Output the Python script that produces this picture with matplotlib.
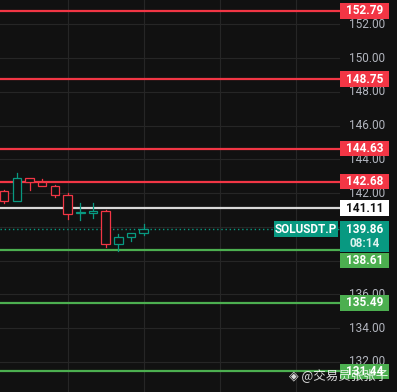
import matplotlib.pyplot as plt
from matplotlib.patches import Rectangle

# candles (oldest -> newest)
opens = [142.12, 141.51, 142.88, 142.66, 142.41, 141.88, 140.84, 140.82, 140.95, 138.98, 139.39, 139.62]
highs = [142.19, 143.19, 142.88, 142.82, 142.48, 142.00, 141.42, 141.42, 141.02, 139.60, 139.64, 140.17]
lows = [141.39, 141.51, 142.21, 142.41, 141.74, 140.45, 140.39, 140.50, 138.80, 138.59, 139.15, 139.50]
closes = [141.51, 142.88, 142.65, 142.41, 141.88, 140.76, 140.86, 140.96, 138.98, 139.41, 139.64, 139.90]

# horizontal levels
red_levels = [152.79, 148.75, 144.63, 142.68]
white_level = 141.11
green_levels = [138.61, 135.49, 131.44]
last_price = 139.86
countdown = "08:14"
symbol = "SOLUSDT.P"
price_ticks = [152, 150, 148, 146, 144, 142, 140, 138, 136, 134, 132]
hidden_ticks = [140, 138]   # covered by the price boxes on the scale
time_grid = [5, 11, 17, 23]
watermark = "◈ @交易员张张子"

BG = "#111111"
GRID = "#262626"
RED = "#F23645"
GREEN = "#4CAF50"
TEAL = "#089981"
WHITE = "#D8D8D8"
TICK = "#B2B5BE"

plt.rcParams['font.family'] = ['Roboto', 'DejaVu Sans']

W, H = 397, 392
fig = plt.figure(figsize=(W / 100, H / 100), dpi=100, facecolor=BG)
ax = fig.add_axes([0, 0, 1, 1])
ax.set_facecolor(BG)

# pixel <-> data mapping of the screenshot
PX_BAR, X0 = 12.67, 4.3          # px per bar, px of bar 0
PX_UNIT, Y152 = 16.88, 24.3      # px per price unit, px of 152.00


def xd(px):
    return (px - X0) / PX_BAR


def hd(px):
    return px / PX_UNIT


ax.set_xlim(xd(0), xd(W))
ax.set_ylim(152 - (H - Y152) / PX_UNIT, 152 + Y152 / PX_UNIT)
ax.axis('off')

edge = xd(339)

# grid
for t in price_ticks:
    ax.plot([xd(0), edge], [t, t], color=GRID, lw=0.8, zorder=1)
for g in time_grid:
    ax.axvline(g, color=GRID, lw=0.8, zorder=1)

# candles, hollow
bw = 0.66
for i, (o, h, l, c) in enumerate(zip(opens, highs, lows, closes)):
    col = TEAL if c >= o else RED
    top, bot = max(o, c), min(o, c)
    ax.plot([i, i], [top, h], color=col, lw=0.9, zorder=3)
    ax.plot([i, i], [l, bot], color=col, lw=0.9, zorder=3)
    ax.add_patch(Rectangle((i - bw / 2, bot), bw, max(top - bot, 0.03),
                           facecolor=BG, edgecolor=col, lw=0.9, zorder=4))

# levels
for lv in red_levels:
    ax.plot([xd(0), edge], [lv, lv], color=RED, lw=1.6, zorder=2)
ax.plot([xd(0), edge], [white_level, white_level], color=WHITE, lw=1.6, zorder=2)
for lv in green_levels:
    ax.plot([xd(0), edge], [lv, lv], color=GREEN, lw=1.6, zorder=2)
ax.plot([xd(0), edge], [last_price, last_price], color=TEAL, lw=1.0,
        ls=(0, (1, 2)), zorder=2)

# price scale tick labels
for t in price_ticks:
    if t in hidden_ticks:
        continue
    ax.text(xd(367), t, f"{t:.2f}", color=TICK, fontsize=8.5,
            ha='center', va='center', zorder=5)

bx0, bwid, bh = xd(340), xd(389) - xd(340), hd(15.5)


def price_box(y, text, face, tcolor="white"):
    ax.add_patch(Rectangle((bx0, y - bh / 2), bwid, bh, facecolor=face,
                           edgecolor='none', zorder=6))
    ax.text(bx0 + bwid / 2, y, text, color=tcolor, fontsize=8.5,
            fontweight='bold', ha='center', va='center', zorder=7)


for lv in red_levels:
    price_box(lv, f"{lv:.2f}", RED)
price_box(white_level, f"{white_level:.2f}", "white", "#111111")

# last price box with countdown
ax.add_patch(Rectangle((bx0, last_price - hd(23)), bwid, hd(31), facecolor=TEAL,
                       edgecolor='none', zorder=6))
ax.text(bx0 + bwid / 2, last_price, f"{last_price:.2f}", color='white',
        fontsize=8.5, fontweight='bold', ha='center', va='center', zorder=7)
ax.text(bx0 + bwid / 2, last_price - hd(14), countdown, color='#DDF2EE',
        fontsize=8.5, fontweight='bold', ha='center', va='center', zorder=7)
ax.add_patch(Rectangle((xd(274), last_price - bh / 2), xd(338) - xd(274), bh,
                       facecolor=TEAL, edgecolor='none', zorder=6))
ax.text((xd(274) + xd(338)) / 2, last_price, symbol, color='white',
        fontsize=8.5, fontweight='bold', ha='center', va='center', zorder=7)

# green labels (first one pushed below the last price box)
price_box(last_price - hd(31.5), f"{green_levels[0]:.2f}", GREEN)
for lv in green_levels[1:]:
    price_box(lv, f"{lv:.2f}", GREEN)

ax.text(xd(339), 131.44 - hd(4), watermark, color='white', alpha=0.85,
        fontsize=9, ha='center', va='center', zorder=9,
        family=['Noto Sans CJK SC', 'DejaVu Sans'])

fig.savefig("out.png", dpi=100, facecolor=BG)
